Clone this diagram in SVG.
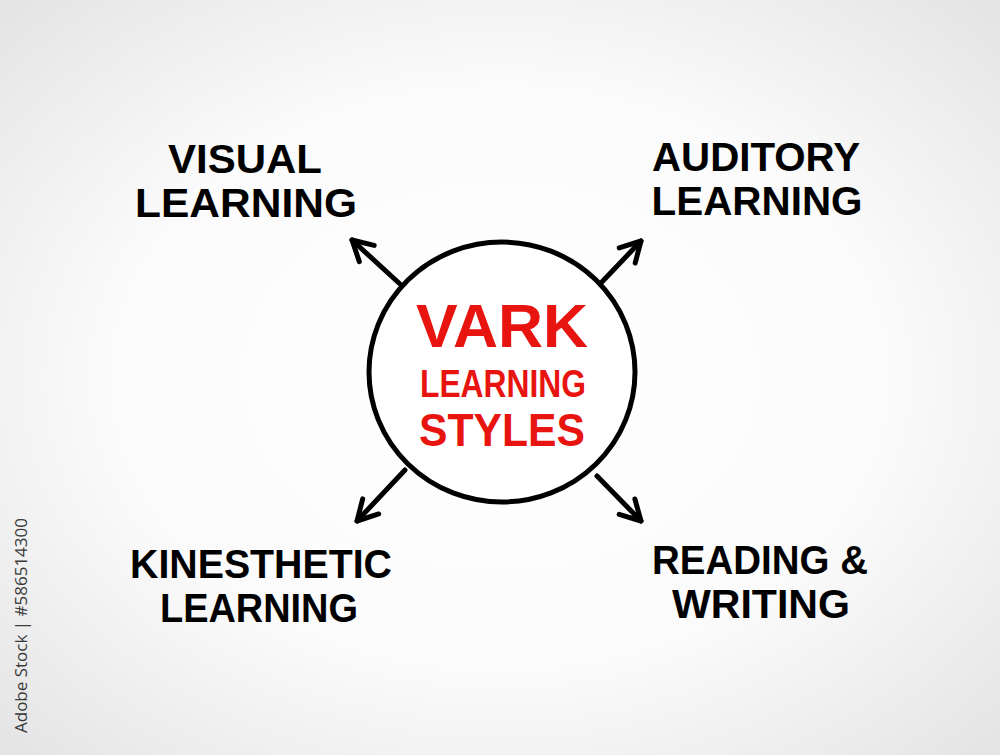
<svg xmlns="http://www.w3.org/2000/svg" width="1000" height="755" viewBox="0 0 1000 755">
  <defs>
    <radialGradient id="bg" cx="50%" cy="50%" r="70%">
      <stop offset="0" stop-color="#ffffff"/>
      <stop offset="0.55" stop-color="#fbfbfb"/>
      <stop offset="1" stop-color="#e4e4e4"/>
    </radialGradient>
    <marker id="arrow" viewBox="-26 -16 32 32" refX="0" refY="0" markerWidth="32" markerHeight="32" markerUnits="userSpaceOnUse" orient="auto">
      <path d="M-20,-11 L0,0 L-20,11" fill="none" stroke="#000" stroke-width="5" stroke-linecap="round" stroke-linejoin="round"/>
    </marker>
    <style>
      .lbl { font-family: "Liberation Sans", Arial, sans-serif; font-weight: bold; font-size: 40px; fill: #000; text-anchor: middle; }
      .red { font-family: "Liberation Sans", Arial, sans-serif; font-weight: bold; fill: #e8140f; text-anchor: middle; }
      .conn { stroke: #000; stroke-width: 5; fill: none; stroke-linecap: round; marker-end: url(#arrow); }
    </style>
  </defs>
  <rect x="0" y="0" width="1000" height="755" fill="url(#bg)"/>

  <g id="connectors">
    <path class="conn" d="M400,284 L352,240"/>
    <path class="conn" d="M600,284 L641,241"/>
    <path class="conn" d="M405,470 L357,521"/>
    <path class="conn" d="M597,476 L641,521"/>
  </g>

  <g id="center">
    <ellipse cx="502" cy="372" rx="133" ry="130" fill="#ffffff" stroke="#000" stroke-width="5"/>
    <text class="red" x="502" y="347" font-size="62" textLength="172" lengthAdjust="spacingAndGlyphs">VARK</text>
    <text class="red" x="503" y="397" font-size="38" textLength="166" lengthAdjust="spacingAndGlyphs">LEARNING</text>
    <text class="red" x="502" y="446" font-size="46" textLength="166" lengthAdjust="spacingAndGlyphs">STYLES</text>
  </g>

  <g id="visual">
    <text class="lbl" x="245" y="173" textLength="154" lengthAdjust="spacingAndGlyphs">VISUAL</text>
    <text class="lbl" x="246" y="217" textLength="222" lengthAdjust="spacingAndGlyphs">LEARNING</text>
  </g>

  <g id="auditory">
    <text class="lbl" x="756" y="171" textLength="208" lengthAdjust="spacingAndGlyphs">AUDITORY</text>
    <text class="lbl" x="757" y="215" textLength="211" lengthAdjust="spacingAndGlyphs">LEARNING</text>
  </g>

  <g id="kinesthetic">
    <text class="lbl" x="261" y="578" textLength="262" lengthAdjust="spacingAndGlyphs">KINESTHETIC</text>
    <text class="lbl" x="259" y="622" textLength="198" lengthAdjust="spacingAndGlyphs">LEARNING</text>
  </g>

  <g id="reading">
    <text class="lbl" x="760" y="574" textLength="216" lengthAdjust="spacingAndGlyphs">READING &amp;</text>
    <text class="lbl" x="761" y="618" textLength="178" lengthAdjust="spacingAndGlyphs">WRITING</text>
  </g>

  <text x="0" y="0" transform="translate(27,733) rotate(-90)" font-family="'Open Sans', 'Liberation Sans', sans-serif" font-size="17" fill="#3a3a3a" textLength="215" lengthAdjust="spacingAndGlyphs">Adobe Stock | #586514300</text>
</svg>
